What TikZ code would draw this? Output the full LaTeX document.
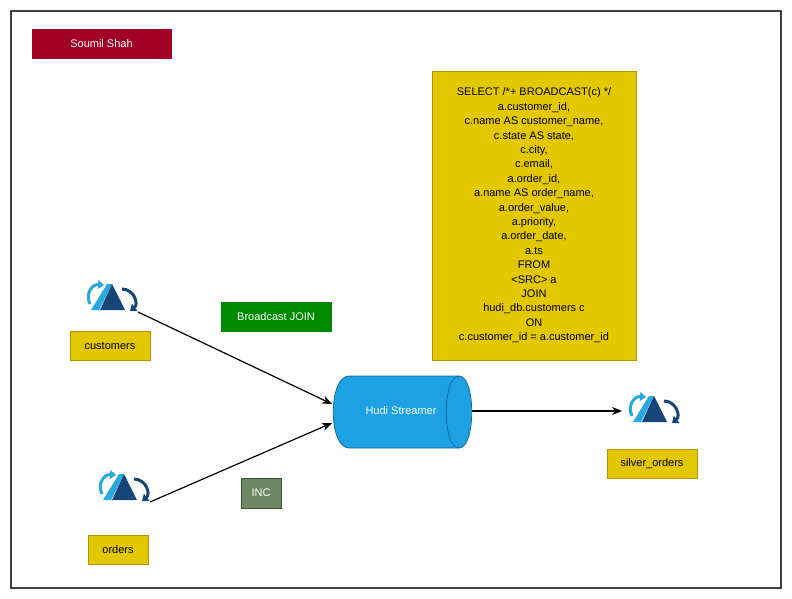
\documentclass[tikz,border=0pt]{standalone}
\usepackage{fontspec}
\setmainfont{Liberation Sans}
\usetikzlibrary{arrows.meta,positioning}
\definecolor{hudiblue}{RGB}{29,161,226}
\definecolor{hudiline}{RGB}{16,110,160}
\definecolor{iconlight}{RGB}{40,170,225}
\definecolor{icondark}{RGB}{22,70,120}
\definecolor{sqlfill}{RGB}{227,200,0}
\definecolor{sqlline}{RGB}{176,149,0}
\definecolor{namefill}{RGB}{162,0,37}
\definecolor{joinfill}{RGB}{0,138,0}
\definecolor{incfill}{RGB}{109,135,100}
\definecolor{incline}{RGB}{58,84,49}
\tikzset{
  box/.style={draw=#1, inner sep=0pt, align=center, font=\fontsize{11}{13}\selectfont},
  yellowbox/.style={box=sqlline, fill=sqlfill},
  link/.style={-{Stealth[length=10pt,width=8pt]}, line width=1.2pt}
}
\newcommand{\tableicon}[2]{%
  \begin{scope}[shift={#1}]
    \fill[iconlight] (-19,12) -- (-11,12) -- (2,-14) -- (-3,-14) -- cycle;
    \fill[icondark] (-10,12) -- (15,12) -- (2,-14) -- cycle;
    \draw[iconlight, line width=3pt, -{Triangle[length=6pt,width=9pt]}] (-20,6) .. controls (-25,-4) and (-18,-14) .. (-6,-13);
    \draw[icondark, line width=3pt, -{Triangle[length=6pt,width=9pt]}] (12,-9) .. controls (24,-9) and (29,6) .. (20,13);
    \coordinate (#2) at (28,14);
  \end{scope}}
\begin{document}
\begin{tikzpicture}[x=1pt,y=-1pt]
\useasboundingbox (0,0) rectangle (792,599);
\draw[line width=1.5pt, black!75] (11,11) rectangle (781,588);
%labels
\node[box=namefill, fill=namefill, text=white, minimum width=139pt, minimum height=29pt] (author) at (101.5,43.5) {Soumil Shah};
\node[yellowbox, minimum width=204pt, minimum height=289pt, font=\fontsize{11}{14.4}\selectfont] (sql) at (534,215.5) {SELECT /*+ BROADCAST(c) */\\a.customer\_id,\\c.name AS customer\_name,\\c.state AS state,\\c.city,\\c.email,\\a.order\_id,\\a.name AS order\_name,\\a.order\_value,\\a.priority,\\a.order\_date,\\a.ts\\FROM\\<SRC> a\\JOIN\\hudi\_db.customers c\\ON\\c.customer\_id = a.customer\_id};
\node[box=joinfill, fill=joinfill, text=white, minimum width=110pt, minimum height=29pt] (join) at (276,316.5) {Broadcast JOIN};
\node[box=incline, fill=incfill, text=white, minimum width=40pt, minimum height=30pt] (inc) at (261,493) {INC};
%tables
\tableicon{(110,298)}{custout}
\node[yellowbox, minimum width=80pt, minimum height=29pt] (customers) at (110,345.5) {customers};
\tableicon{(122,488)}{ordout}
\node[yellowbox, minimum width=60pt, minimum height=29pt] (orders) at (118,549.5) {orders};
\tableicon{(652,410)}{silverout}
\coordinate (silverin) at (622,411);
\node[yellowbox, minimum width=90pt, minimum height=29pt] (silver) at (652,463.5) {silver\_orders};
%streamer
\filldraw[fill=hudiblue, draw=hudiline, line width=0.8pt]
  (349,376) -- (459,376) .. controls (476,376) and (476,448) .. (459,448)
  -- (349,448) .. controls (328,448) and (328,376) .. (349,376) -- cycle;
\draw[hudiline, line width=0.8pt] (459,376) .. controls (442,376) and (442,448) .. (459,448);
\node[text=white, font=\fontsize{11}{13}\selectfont] (hudi) at (401,411) {Hudi Streamer};
\coordinate (hudiin1) at (332,404);
\coordinate (hudiin2) at (332,423);
\coordinate (hudiout) at (472,411);
\draw[link] (custout) -- (hudiin1);
\draw[link] (ordout) -- (hudiin2);
\draw[link] (hudiout) -- (silverin);
\end{tikzpicture}
\end{document}
